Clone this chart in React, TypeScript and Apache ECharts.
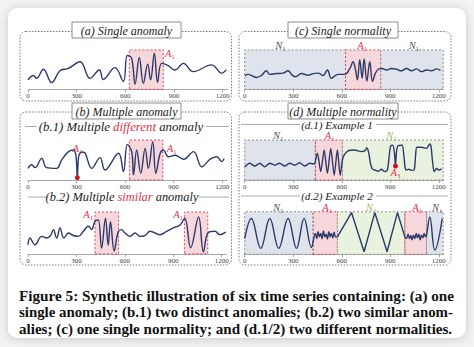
import React, { useEffect, useRef } from "react";
import * as echarts from "echarts";

const TICKS = [0, 300, 600, 900, 1200];
const X_MAX = 1230;
const Y_MAX = 120;
const REGION_TOP = 100;

// ---- series values [time, value] ----
const seriesA = [[0,24],[33,35],[53,28],[95,51],[146,17],[197,47],[249,53],[321,70],[382,28],[440,49],[464,25],[536,55],[588,20],[612,86],[639,79],[660,13],[686,81],[711,15],[738,64],[756,24],[779,92],[799,18],[824,66],[865,60],[906,49],[958,66],[1019,45],[1132,62],[1194,41],[1222,50]];
const seriesC = [[0,35],[21,38],[72,30],[103,35],[134,47],[155,38],[196,40],[237,41],[268,47],[293,36],[313,32],[351,40],[392,36],[423,40],[454,41],[485,35],[511,49],[536,28],[577,38],[619,38],[650,53],[670,70],[685,49],[697,24],[711,75],[726,28],[738,77],[755,21],[773,70],[790,20],[808,41],[829,52],[850,53],[876,49],[907,53],[938,51],[969,47],[1000,53],[1031,47],[1062,52],[1093,45],[1124,49],[1155,47],[1186,52],[1210,48]];
const seriesB1 = [[0,29],[23,38],[43,31],[85,54],[115,31],[177,29],[208,50],[250,71],[280,75],[296,62],[305,6],[314,60],[335,70],[353,67],[394,29],[445,56],[476,25],[559,67],[590,21],[614,89],[641,71],[652,13],[672,75],[697,17],[724,79],[744,29],[771,96],[790,17],[817,67],[837,75],[868,58],[909,62],[961,52],[1023,71],[1074,33],[1126,52],[1167,58],[1198,46],[1212,54]];
const seriesB2 = [[0,22],[12,38],[43,22],[85,42],[116,38],[140,44],[157,58],[178,38],[198,62],[223,38],[250,50],[281,44],[312,42],[343,54],[374,66],[394,58],[415,78],[435,81],[456,14],[480,85],[497,21],[511,77],[534,7],[559,53],[580,58],[601,50],[632,42],[663,50],[694,42],[725,44],[756,54],[787,50],[818,46],[859,54],[900,62],[942,69],[971,85],[1008,15],[1057,88],[1087,5],[1115,50],[1158,54],[1189,46],[1225,52]];
const seriesD1 = [[0,33],[31,42],[62,35],[93,42],[124,33],[155,42],[186,37],[216,42],[247,35],[278,42],[309,37],[340,43],[371,35],[402,42],[429,40],[449,67],[470,21],[491,75],[511,17],[532,79],[553,12],[573,75],[590,12],[604,50],[614,62],[639,73],[680,75],[722,71],[745,74],[753,80],[765,71],[778,40],[790,27],[804,25],[825,22],[845,27],[866,21],[882,25],[893,60],[902,85],[915,87],[925,70],[932,35],[938,70],[948,86],[973,87],[984,60],[992,30],[1000,25],[1015,27],[1031,24],[1048,26],[1056,60],[1064,82],[1093,82],[1124,79],[1144,90],[1152,83],[1160,50],[1171,21],[1186,29],[1200,25],[1217,28]];
const seriesD2Sine = [[0,37],[41,84],[99,14],[155,84],[210,14],[268,84],[320,14],[367,84],[412,16],[429,41],[437,49],[445,37],[454,53],[462,41],[470,49],[478,37],[487,55],[495,41],[503,47],[511,36],[520,53],[528,41],[536,49],[544,39],[553,52],[561,41],[573,41]];
const seriesD2Tri = [[573,41],[660,98],[738,6],[804,98],[880,6],[944,98],[990,41]];
const seriesD2End = [[990,41],[1000,37],[1010,47],[1019,37],[1027,44],[1035,34],[1043,45],[1052,37],[1060,49],[1068,39],[1076,47],[1085,34],[1093,45],[1101,39],[1109,49],[1118,41],[1124,45],[1144,88],[1175,10],[1221,84]];

// ---- regions [from, to, kind] ----
type Kind = "A" | "N1" | "N2";
const regionsA: [number, number, Kind][] = [[625, 834, "A"]];
const regionsC: [number, number, Kind][] = [[0, 623, "N1"], [623, 841, "A"], [841, 1227, "N1"]];
const regionsB1: [number, number, Kind][] = [[627, 833, "A"]];
const regionsB2: [number, number, Kind][] = [[415, 561, "A"], [969, 1114, "A"]];
const regionsD1: [number, number, Kind][] = [[0, 437, "N1"], [437, 604, "A"], [604, 1227, "N2"]];
const regionsD2: [number, number, Kind][] = [[0, 423, "N1"], [423, 573, "A"], [573, 990, "N2"], [990, 1124, "A"], [1124, 1227, "N1"]];

// ---- labels [letter, subscript, time, value, kind] ----
type Lab = [string, string, number, number, string];
const labelsA: Lab[] = [["A", "1", 875, 90, "A"]];
const labelsC: Lab[] = [["N", "1", 220, 112, "N"], ["A", "1", 725, 112, "A"], ["N", "1", 1045, 112, "N"]];
const labelsB1: Lab[] = [["A", "2", 305, 79, "A"], ["A", "1", 888, 79, "A"]];
const labelsB2: Lab[] = [["A", "1", 373, 93, "A"], ["A", "1", 930, 93, "A"]];
const labelsD1: Lab[] = [["N", "1", 206, 112, "N"], ["A", "1", 525, 112, "A"], ["N", "2", 907, 112, "N2"], ["A", "3", 931, 18, "A"]];
const labelsD2: Lab[] = [["N", "1", 206, 110, "N"], ["A", "1", 509, 110, "A"], ["N", "2", 781, 110, "N2"], ["A", "1", 1065, 110, "A"], ["N", "1", 1189, 110, "N"]];

const dotsB1 = [[305, 6]];
const dotsD1 = [[932, 35]];

const LINE = "#2c3a6a";
const RED = "#e0344e";
const SERIF = "'Liberation Serif', 'DejaVu Serif', serif";

const regionStyle = (k: Kind) =>
  k === "A"
    ? { color: "rgba(233,160,170,0.42)", borderColor: "#d9475b", borderWidth: 1, borderType: [2, 2] }
    : k === "N1"
    ? { color: "#dfe3eb", borderColor: "#8f8f8f", borderWidth: 1, borderType: [2, 2] }
    : { color: "#e9f2df", borderColor: "#8f8f8f", borderWidth: 1, borderType: [2, 2] };

const labelColor = (k: string) => (k === "A" ? RED : k === "N2" ? "#9cbc6c" : "#555");

const GRIDS = [
  { left: 28, top: 42.1, width: 199.5, height: 47.2 },
  { left: 244.7, top: 42.1, width: 199, height: 47.2 },
  { left: 28, top: 132, width: 199, height: 48 },
  { left: 28, top: 203.6, width: 198.5, height: 50.4 },
  { left: 244.7, top: 132, width: 199, height: 48 },
  { left: 244.7, top: 203.2, width: 199, height: 51.1 },
];

function lineSeries(i: number, data: number[][], smooth: number | boolean, extra: any = {}) {
  return {
    type: "line",
    xAxisIndex: i,
    yAxisIndex: i,
    data,
    smooth,
    symbol: "none",
    silent: true,
    lineStyle: { color: LINE, width: 1.4 },
    z: 3,
    ...extra,
  };
}

function marks(regions: [number, number, Kind][], labels: Lab[], dots: number[][]) {
  return {
    markArea: {
      silent: true,
      label: { show: false },
      data: regions.map(([a, b, k]) => [
        { xAxis: a, yAxis: 0, itemStyle: regionStyle(k) },
        { xAxis: b, yAxis: REGION_TOP },
      ]),
    },
    markPoint: {
      silent: true,
      data: [
        ...dots.map((d) => ({
          coord: d,
          symbol: "circle",
          symbolSize: 5,
          itemStyle: { color: "#d0102b" },
          label: { show: false },
        })),
        ...labels.map(([t, s, x, y, k]) => ({
          coord: [x, y],
          symbol: "circle",
          symbolSize: 0,
          label: {
            show: true,
            position: "inside",
            formatter: `{m|${t}}{s|${s}}`,
            rich: {
              m: { color: labelColor(k), fontStyle: "italic", fontFamily: SERIF, fontSize: 10.5, verticalAlign: "bottom" },
              s: { color: labelColor(k), fontFamily: SERIF, fontSize: 6.5, verticalAlign: "bottom", padding: [0, 0, -1, 0] },
            },
          },
        })),
      ],
    },
  };
}

function titleBox(x: number, y: number, w: number, text: string) {
  return [
    { type: "rect", shape: { x, y, width: w, height: 16 }, style: { fill: "#fff", stroke: "#8c8c8c", lineWidth: 1 } },
    {
      type: "text",
      x: x + w / 2,
      y: y + 8.5,
      style: { text, fill: "#222", font: `italic 12px ${SERIF}`, textAlign: "center", textVerticalAlign: "middle" },
    },
  ];
}

function subTitle(cx: number, y: number, size: number, l1: number[], l2: number[], pre: string, red: string, post: string) {
  const parts = red ? `{a|${pre}}{r|${red}}{a|${post}}` : `{a|${pre}}`;
  return [
    { type: "line", shape: { x1: l1[0], y1: y, x2: l1[1], y2: y }, style: { stroke: "#aaa", lineWidth: 1 } },
    { type: "line", shape: { x1: l2[0], y1: y, x2: l2[1], y2: y }, style: { stroke: "#aaa", lineWidth: 1 } },
    {
      type: "text",
      x: cx,
      y,
      style: {
        text: parts,
        textAlign: "center",
        textVerticalAlign: "middle",
        rich: {
          a: { fill: "#222", fontStyle: "italic", fontSize: size, fontFamily: SERIF },
          r: { fill: RED, fontStyle: "italic", fontSize: size, fontFamily: SERIF },
        },
      },
    },
  ];
}

const panel = (x: number, y: number, w: number, h: number) => ({
  type: "rect",
  shape: { x, y, width: w, height: h, r: 6 },
  style: { fill: "none", stroke: "#7a7a7a", lineWidth: 1, lineDash: [1.5, 1.5] },
});

const captionLines = [
  "Figure 5: Synthetic illustration of six time series containing: (a) one",
  "single anomaly; (b.1) two distinct anomalies; (b.2) two similar anom-",
  "alies; (c) one single normality; and (d.1/2) two different normalities.",
];
const captionSizes = [15.2, 14.85, 15.05];

export default function App() {
  const ref = useRef<HTMLDivElement>(null);
  useEffect(() => {
    if (!ref.current) return;
    const chart = echarts.init(ref.current, undefined, { renderer: "svg" });
    const xAxes = GRIDS.map((_, i) => ({
      type: "value",
      gridIndex: i,
      min: 0,
      max: X_MAX,
      axisLine: { show: true, lineStyle: { color: "#a8a8a8", width: 1 } },
      axisTick: { show: true, length: 3, customValues: TICKS, lineStyle: { color: "#a8a8a8" } },
      axisLabel: {
        show: true,
        customValues: TICKS,
        formatter: (v: number) => String(v),
        fontSize: 7,
        color: "#444",
        fontFamily: SERIF,
        margin: 3,
      },
      splitLine: { show: false },
    }));
    const yAxes = GRIDS.map((_, i) => ({ type: "value", gridIndex: i, min: 0, max: Y_MAX, show: false }));

    const series = [
      lineSeries(0, seriesA, 0.4, marks(regionsA, labelsA, [])),
      lineSeries(1, seriesC, 0.4, marks(regionsC, labelsC, [])),
      lineSeries(2, seriesB1, 0.4, marks(regionsB1, labelsB1, dotsB1)),
      lineSeries(3, seriesB2, 0.4, marks(regionsB2, labelsB2, [])),
      lineSeries(4, seriesD1, 0.25, marks(regionsD1, labelsD1, dotsD1)),
      lineSeries(5, seriesD2Sine, 0.4, marks(regionsD2, labelsD2, [])),
      lineSeries(5, seriesD2Tri, false),
      lineSeries(5, seriesD2End, 0.4),
    ];

    const graphic: any[] = [
      {
        type: "rect",
        shape: { x: 8, y: 8, width: 458, height: 330, r: 10 },
        style: { fill: "#fff", shadowBlur: 10, shadowColor: "rgba(0,0,0,0.18)", shadowOffsetY: 1 },
      },
      panel(20, 31.5, 211.5, 69.5),
      panel(239, 31.5, 212, 69.5),
      panel(20, 112, 211.5, 153),
      panel(239, 112, 212, 153),
      ...titleBox(72, 22, 109, "(a) Single anomaly"),
      ...titleBox(288, 22, 110, "(c) Single normality"),
      ...titleBox(72, 103, 109, "(b) Multiple anomaly"),
      ...titleBox(288, 103, 110, "(d) Multiple normality"),
      ...subTitle(121, 126.5, 12.8, [25, 37], [206, 229], "(b.1) Multiple ", "different", " anomaly"),
      ...subTitle(122, 197, 12.4, [28, 47], [199, 229], "(b.2) Multiple ", "similar", " anomaly"),
      ...subTitle(337, 124.5, 11.2, [241, 300], [376, 448], "(d.1) Example 1", "", ""),
      ...subTitle(337, 196, 11.2, [241, 300], [376, 448], "(d.2) Example 2", "", ""),
      ...captionLines.map((t, i) => ({
        type: "text",
        x: 19,
        y: 295 + i * 17.2,
        style: { text: t, fill: "#111", font: `bold ${captionSizes[i]}px ${SERIF}`, textAlign: "left", textVerticalAlign: "middle" },
      })),
    ];

    chart.setOption({
      animation: false,
      backgroundColor: "#f3f3f3",
      grid: GRIDS.map((g) => ({ ...g, containLabel: false, outerBoundsMode: "none" })),
      xAxis: xAxes,
      yAxis: yAxes,
      series,
      graphic,
    });
    return () => chart.dispose();
  }, []);
  return <div ref={ref} style={{ position: "fixed", left: 0, top: 0, width: 474, height: 347 }} />;
}
